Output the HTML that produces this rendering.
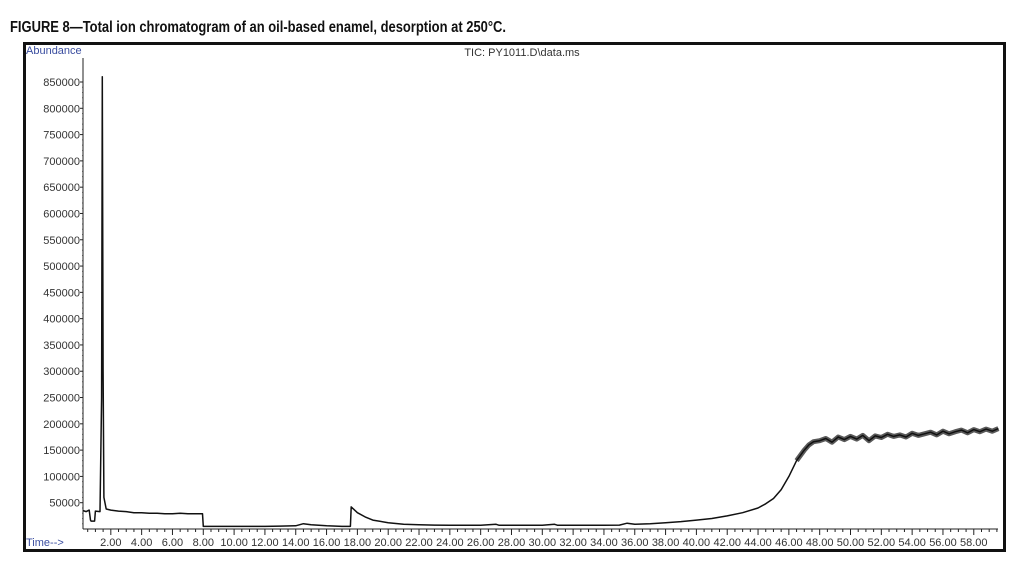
<!DOCTYPE html>
<html><head><meta charset="utf-8"><style>
body{margin:0;background:#fff;width:1024px;height:571px;overflow:hidden;font-family:"Liberation Sans",sans-serif}
</style></head><body>
<svg width="1024" height="571" xmlns="http://www.w3.org/2000/svg">
<text x="10" y="32" font-size="16" font-weight="bold" fill="#111" textLength="496" lengthAdjust="spacingAndGlyphs">FIGURE 8—Total ion chromatogram of an oil-based enamel, desorption at 250°C.</text>
<rect x="24.5" y="43.5" width="980" height="507" fill="#fff" stroke="#111" stroke-width="3"/>
<text x="26" y="54" font-size="11" fill="#3b4ea0">Abundance</text>
<text x="522" y="56" font-size="11" fill="#333" text-anchor="middle">TIC: PY1011.D\data.ms</text>
<text x="26" y="546" font-size="11" fill="#3b4ea0">Time--&gt;</text>
<g id="axes"></g>
<path id="band" fill="none" stroke="#222" stroke-width="5" stroke-opacity="0.75" stroke-linejoin="round"/>
<path id="trace" fill="none" stroke="#111" stroke-width="1.5" stroke-linejoin="round"/>
</svg>
<script>
const yTicks=[50000,100000,150000,200000,250000,300000,350000,400000,450000,500000,550000,600000,650000,700000,750000,800000,850000];
const xTicks=[2,4,6,8,10,12,14,16,18,20,22,24,26,28,30,32,34,36,38,40,42,44,46,48,50,52,54,56,58];
const times=[0.2,0.4,0.6,0.68,0.72,0.95,1.0,1.3,1.4,1.45,1.5,1.55,1.7,2,2.5,3,3.5,4,4.5,5,5.5,6,6.5,7,7.5,7.95,8.0,9,10,11,12,13,14,14.5,15,16,17,17.55,17.6,18,18.5,19,20,21,22,23,24,25,26,27,27.2,28,29,30,30.8,31,32,33,34,35,35.5,36,37,38,39,40,41,42,43,44,44.5,45,45.5,46,46.5,47,47.3,47.6,48,48.4,48.8,49.2,49.6,50,50.4,50.8,51.2,51.6,52,52.4,52.8,53.2,53.6,54,54.4,54.8,55.2,55.6,56,56.4,56.8,57.2,57.6,58,58.4,58.8,59.2,59.6];
const abund=[35000,33000,36000,17000,15000,15000,34000,33000,250000,860000,300000,60000,38000,36000,34000,33000,31000,31000,30000,30000,29000,29000,30000,29000,29000,29000,5000,5000,5000,5000,5000,5500,6000,10000,8000,6000,5000,5000,42000,31000,23000,17000,12000,9000,8000,7500,7000,7000,7000,9000,7000,7000,7000,7000,9000,7000,7000,7000,7000,7500,11000,9000,10000,12000,14000,17000,20000,25000,31000,40000,48000,58000,75000,100000,130000,150000,160000,166000,168000,172000,165000,175000,170000,176000,171000,178000,168000,177000,174000,180000,176000,179000,175000,182000,178000,181000,184000,179000,186000,181000,185000,188000,183000,189000,185000,190000,186000,191000,193000,187000];
const xScale=t=>80+t*15.41;
const yScale=v=>529-v*(447/850000);
const ns="http://www.w3.org/2000/svg";
const ax=document.getElementById('axes');
function mk(tag,attrs){const e=document.createElementNS(ns,tag);for(const k in attrs)e.setAttribute(k,attrs[k]);ax.appendChild(e);return e;}
let e=mk('line',{x1:83,y1:58,x2:83,y2:529,stroke:'#222','stroke-width':1});


e=mk('line',{x1:83,y1:529,x2:998,y2:529,stroke:'#222','stroke-width':1});


yTicks.forEach(v=>{
  const y=yScale(v);
  const l=mk('line',{x1:80,y1:y,x2:83,y2:y,stroke:'#222'});
  
  
  const t=mk('text',{x:80,y:y+4,'font-size':11,fill:'#333','text-anchor':'end'});
  t.textContent=String(v);
  
  
});
for(let v=10000;v<860000;v+=10000){if(v%50000===0)continue;const y=yScale(v);const l=mk('line',{x1:82,y1:y,x2:83,y2:y,stroke:'#555'});

}
for(let t=0.5;t<=59.5;t+=0.5){const x=xScale(t);const major=(t%2===0);
  const l=mk('line',{x1:x,y1:529,x2:x,y2:major?535:532,stroke:'#222'});
  
  }
xTicks.forEach(v=>{
  const t=mk('text',{x:xScale(v),y:546,'font-size':11,fill:'#333','text-anchor':'middle'});
  t.textContent=v.toFixed(2);
  
  
});
let d='',db='';
times.forEach((t,i)=>{
  const seg=xScale(t).toFixed(1)+','+yScale(abund[i]).toFixed(1);
  d+=(i?'L':'M')+seg;
  if(t>=46.5){db+=(db?'L':'M')+seg;}
});
document.getElementById('trace').setAttribute('d',d);
document.getElementById('band').setAttribute('d',db);
</script>
</body></html>
